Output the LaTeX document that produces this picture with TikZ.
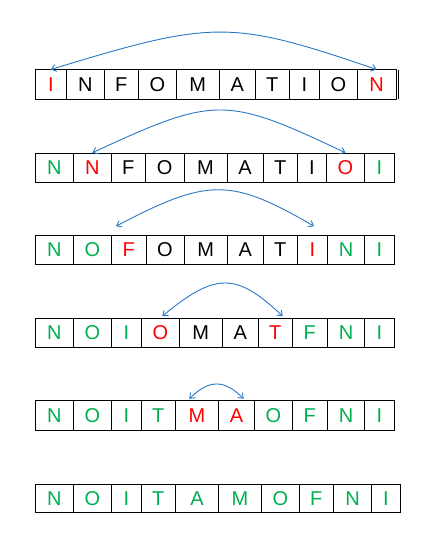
\documentclass[tikz,border=0pt]{standalone}
\usepackage{fontspec}
\setmainfont{Liberation Sans}
\usetikzlibrary{arrows.meta}
\definecolor{rd}{RGB}{255,0,0}
\definecolor{gn}{RGB}{0,176,80}
\definecolor{bk}{RGB}{0,0,0}
\definecolor{arcblue}{RGB}{40,120,200}
\tikzset{
  cell/.style={draw=black, line width=1pt, inner sep=0pt, minimum height=#1,
    text height=14.3pt, text depth=0pt, font=\fontsize{20}{24}\selectfont},
  swaparc/.style={draw=arcblue, line width=0.9pt,
    {Straight Barb[length=4.5pt,width=7pt]}-{Straight Barb[length=4.5pt,width=7pt]}},
}
\begin{document}
\begin{tikzpicture}[x=1pt,y=-1pt]
\useasboundingbox (0,0) rectangle (432,534);
% row 1
\foreach \l/\r/\t/\c [count=\i] in {35.3/66.3/I/rd, 66.3/104.3/N/bk, 104.3/138.3/F/bk, 138.3/176.3/O/bk, 176.3/219.3/M/bk, 219.3/255.3/A/bk, 255.3/289.3/T/bk, 289.3/319.3/I/bk, 319.3/357.3/O/bk, 357.3/396/N/rd}
  \node[cell=29.3pt, minimum width={(\r-\l)*1pt}, text=\c] (r1c\i) at ({(\l+\r)/2},84.65) {\t};
\draw[line width=1.8pt] (398.4,70) -- (398.4,99.3);
% row 2
\foreach \l/\r/\t/\c [count=\i] in {35.3/73.3/N/gn, 73.3/111.3/N/rd, 111.3/145.3/F/bk, 145.3/184/O/bk, 184/227/M/bk, 227/263.3/A/bk, 263.3/297.3/T/bk, 297.3/326.3/I/bk, 326.3/364.7/O/rd, 364.7/394.3/I/gn}
  \node[cell=29pt, minimum width={(\r-\l)*1pt}, text=\c] (r2c\i) at ({(\l+\r)/2},167.8) {\t};
% row 3
\foreach \l/\r/\t/\c [count=\i] in {35.3/73.3/N/gn, 73.3/111.3/O/gn, 111.3/146/F/rd, 146/184/O/bk, 184/227.3/M/bk, 227.3/263.3/A/bk, 263.3/297.3/T/bk, 297.3/327.3/I/rd, 327.3/364.7/N/gn, 364.7/394.3/I/gn}
  \node[cell=29pt, minimum width={(\r-\l)*1pt}, text=\c] (r3c\i) at ({(\l+\r)/2},249.8) {\t};
% row 4
\foreach \l/\r/\t/\c [count=\i] in {35.3/73.3/N/gn, 73.3/111.3/O/gn, 111.3/141.3/I/gn, 141.3/179.3/O/rd, 179.3/222.3/M/bk, 222.3/258.3/A/bk, 258.3/292.3/T/rd, 292.3/327.3/F/gn, 327.3/364.7/N/gn, 364.7/394.3/I/gn}
  \node[cell=28.7pt, minimum width={(\r-\l)*1pt}, text=\c] (r4c\i) at ({(\l+\r)/2},332.65) {\t};
% row 5
\foreach \l/\r/\t/\c [count=\i] in {35.3/73.3/N/gn, 73.3/111.3/O/gn, 111.3/141.3/I/gn, 141.3/175.3/T/gn, 175.3/218.7/M/rd, 218.7/254.3/A/rd, 254.3/292.3/O/gn, 292.3/327.3/F/gn, 327.3/364.7/N/gn, 364.7/394.3/I/gn}
  \node[cell=30pt, minimum width={(\r-\l)*1pt}, text=\c] (r5c\i) at ({(\l+\r)/2},415.3) {\t};
% row 6
\foreach \l/\r/\t/\c [count=\i] in {35.3/73.3/N/gn, 73.3/111.3/O/gn, 111.3/141.3/I/gn, 141.3/175.3/T/gn, 175.3/218.7/A/gn, 218.7/261.3/M/gn, 261.3/299.3/O/gn, 299.3/333.3/F/gn, 333.3/371.7/N/gn, 371.7/400/I/gn}
  \node[cell=28.3pt, minimum width={(\r-\l)*1pt}, text=\c] (r6c\i) at ({(\l+\r)/2},498.15) {\t};
% swap arcs
\draw[swaparc] (r1c1.north) .. controls (214,19.7) and (230.7,19.7) .. (r1c10.north);
\draw[swaparc] (r2c2.north) .. controls (215,95.9) and (225.6,95.9) .. (r2c9.north);
\draw[swaparc] ([xshift=-12.6pt,yshift=8.6pt]r3c3.north) .. controls (208,177.8) and (230.8,177.8) .. ([xshift=1.7pt,yshift=8.6pt]r3c8.north);
\draw[swaparc] ([xshift=2pt,yshift=1.6pt]r4c4.north) .. controls (215.3,272.2) and (236.4,272.2) .. ([xshift=7.4pt,yshift=1.6pt]r4c7.north);
\draw[swaparc] ([xshift=-7.7pt,yshift=1pt]r5c5.north) .. controls (209.3,379.3) and (224.2,379.3) .. ([xshift=7.2pt,yshift=1pt]r5c6.north);
\end{tikzpicture}
\end{document}
